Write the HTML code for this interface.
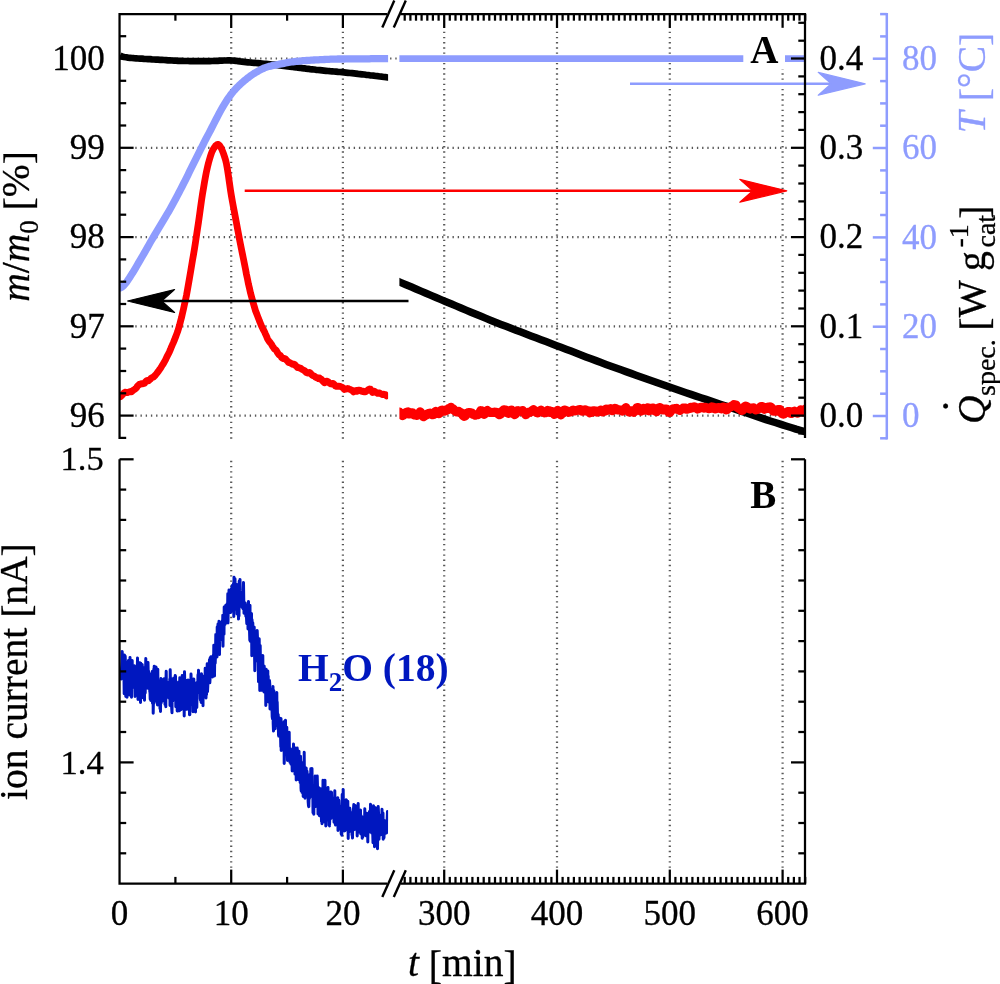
<!DOCTYPE html>
<html lang="en">
<head>
<meta charset="utf-8">
<title>TG / heat flow / ion current chart</title>
<style>
html,body{margin:0;padding:0;background:#fff;}
body{width:1000px;height:984px;overflow:hidden;font-family:"Liberation Serif","Times New Roman",Times,serif;}
svg text{font-kerning:normal;}
</style>
</head>
<body>
<svg width="1000" height="984" viewBox="0 0 1000 984" font-family='"Liberation Serif","Times New Roman",Times,serif' style="display:block">
<rect x="0" y="0" width="1000" height="984" fill="#fff"/>
<g stroke="#585858" stroke-width="2.2" fill="none" stroke-dasharray="1.35 3.85">
<line x1="231.2" y1="31.7" x2="231.2" y2="438.9"/>
<line x1="231.2" y1="460.8" x2="231.2" y2="868.6"/>
<line x1="342.9" y1="31.7" x2="342.9" y2="438.9"/>
<line x1="342.9" y1="460.8" x2="342.9" y2="868.6"/>
<line x1="444.2" y1="31.7" x2="444.2" y2="438.9"/>
<line x1="444.2" y1="460.8" x2="444.2" y2="868.6"/>
<line x1="557.0" y1="31.7" x2="557.0" y2="438.9"/>
<line x1="557.0" y1="460.8" x2="557.0" y2="868.6"/>
<line x1="669.8" y1="31.7" x2="669.8" y2="438.9"/>
<line x1="669.8" y1="460.8" x2="669.8" y2="868.6"/>
<line x1="782.6" y1="31.7" x2="782.6" y2="438.9"/>
<line x1="782.6" y1="460.8" x2="782.6" y2="868.6"/>
<line x1="135.3" y1="58.5" x2="790.6" y2="58.5"/>
<line x1="135.3" y1="147.8" x2="790.6" y2="147.8"/>
<line x1="135.3" y1="237.1" x2="790.6" y2="237.1"/>
<line x1="135.3" y1="326.3" x2="790.6" y2="326.3"/>
<line x1="135.3" y1="415.6" x2="790.6" y2="415.6"/>
</g>
<defs><clipPath id="cp"><rect x="119.6" y="0" width="268.5" height="984"/><rect x="399.4" y="0" width="406.4" height="984"/></clipPath></defs>
<g clip-path="url(#cp)">
<polyline points="120.0,55.5 122.0,56.5 124.0,57.0 126.0,57.3 128.0,57.6 130.0,57.8 132.0,58.0 134.0,58.2 136.0,58.3 138.0,58.5 140.0,58.6 142.0,58.7 144.0,58.9 146.0,59.0 148.0,59.1 150.0,59.2 152.0,59.4 154.0,59.5 156.0,59.6 158.0,59.7 160.0,59.8 162.0,59.9 164.0,60.0 166.0,60.1 168.0,60.3 170.0,60.4 172.0,60.5 174.0,60.6 176.0,60.7 178.0,60.8 180.0,60.9 182.0,60.9 184.0,61.0 186.0,61.0 188.0,61.0 190.0,61.1 192.0,61.1 194.0,61.1 196.0,61.2 198.0,61.2 200.0,61.2 202.0,61.2 204.0,61.2 206.0,61.2 208.0,61.2 210.0,61.1 212.0,61.0 214.0,61.0 216.0,60.9 218.0,60.8 220.0,60.7 222.0,60.6 224.0,60.5 226.0,60.5 228.0,60.4 230.0,60.4 232.0,60.5 234.0,60.6 236.0,60.8 238.0,61.1 240.0,61.4 242.0,61.6 244.0,61.9 246.0,62.1 248.0,62.3 250.0,62.5 252.0,62.7 254.0,62.8 256.0,63.0 258.0,63.2 260.0,63.4 262.0,63.6 264.0,63.8 266.0,63.9 268.0,64.1 270.0,64.3 272.0,64.5 274.0,64.7 276.0,64.9 278.0,65.1 280.0,65.4 282.0,65.6 284.0,65.9 286.0,66.1 288.0,66.4 290.0,66.6 292.0,66.8 294.0,67.1 296.0,67.3 298.0,67.6 300.0,67.8 302.0,68.1 304.0,68.3 306.0,68.6 308.0,68.8 310.0,69.1 312.0,69.3 314.0,69.5 316.0,69.8 318.0,70.0 320.0,70.2 322.0,70.4 324.0,70.6 326.0,70.8 328.0,71.0 330.0,71.2 332.0,71.3 334.0,71.5 336.0,71.7 338.0,71.9 340.0,72.0 342.0,72.2 344.0,72.4 346.0,72.6 348.0,72.8 350.0,73.0 352.0,73.2 354.0,73.4 356.0,73.6 358.0,73.9 360.0,74.1 362.0,74.3 364.0,74.5 366.0,74.8 368.0,75.0 370.0,75.3 372.0,75.5 374.0,75.7 376.0,76.0 378.0,76.2 380.0,76.5 382.0,76.7 384.0,77.0 386.0,77.2 388.0,77.5 390.0,77.8 391.0,77.9" fill="none" stroke="#000" stroke-width="6.7" stroke-linejoin="round" />
<polyline points="396.0,280.5 401.0,282.6 406.0,284.7 411.0,286.8 416.0,289.0 421.0,291.1 426.0,293.2 431.0,295.4 436.0,297.5 441.0,299.6 446.0,301.7 451.0,303.8 456.0,305.9 461.0,308.0 466.0,310.1 471.0,312.2 476.0,314.3 481.0,316.3 486.0,318.4 491.0,320.4 496.0,322.4 501.0,324.4 506.0,326.3 511.0,328.3 516.0,330.2 521.0,332.1 526.0,334.0 531.0,335.9 536.0,337.8 541.0,339.7 546.0,341.6 551.0,343.5 556.0,345.4 561.0,347.3 566.0,349.2 571.0,351.1 576.0,353.0 581.0,354.9 586.0,356.9 591.0,358.8 596.0,360.6 601.0,362.5 606.0,364.4 611.0,366.2 616.0,368.0 621.0,369.8 626.0,371.6 631.0,373.4 636.0,375.2 641.0,377.0 646.0,378.8 651.0,380.5 656.0,382.3 661.0,384.0 666.0,385.8 671.0,387.5 676.0,389.2 681.0,391.0 686.0,392.7 691.0,394.4 696.0,396.1 701.0,397.7 706.0,399.4 711.0,401.1 716.0,402.8 721.0,404.5 726.0,406.1 731.0,407.8 736.0,409.5 741.0,411.2 746.0,412.8 751.0,414.5 756.0,416.2 761.0,417.9 766.0,419.6 771.0,421.2 776.0,422.8 781.0,424.4 786.0,426.0 791.0,427.5 796.0,429.1 801.0,430.5 805.0,431.7" fill="none" stroke="#000" stroke-width="7.5" stroke-linejoin="round" />
<polyline points="120.5,396.6 121.5,395.7 122.5,394.6 123.5,393.5 124.5,392.4 125.5,392.1 126.5,392.5 127.5,392.6 128.5,392.2 129.5,391.7 130.5,391.9 131.5,391.9 132.5,390.9 133.5,390.0 134.5,389.5 135.5,388.6 136.5,387.7 137.5,386.0 138.5,385.3 139.5,384.1 140.5,384.1 141.5,383.6 142.5,383.9 143.5,383.5 144.5,383.4 145.5,381.8 146.5,380.9 147.5,380.4 148.5,380.8 149.5,379.8 150.5,379.0 151.5,377.8 152.5,377.4 153.5,377.0 154.5,376.0 155.5,375.0 156.5,373.7 157.5,372.4 158.5,371.1 159.5,369.6 160.5,368.3 161.5,366.6 162.5,364.9 163.5,363.5 164.5,361.6 165.5,359.8 166.5,357.6 167.5,355.7 168.5,353.7 169.5,351.7 170.5,349.4 171.5,346.8 172.5,344.5 173.5,342.3 174.5,339.9 175.5,337.2 176.5,334.6 177.5,331.9 178.5,328.7 179.5,325.3 180.5,321.4 181.5,317.7 182.5,313.3 183.5,309.0 184.5,304.4 185.5,300.0 186.5,295.2 187.5,289.7 188.5,283.9 189.5,278.1 190.5,272.2 191.5,266.3 192.5,260.3 193.5,254.7 194.5,248.6 195.5,242.2 196.5,235.5 197.5,228.8 198.5,222.3 199.5,215.1 200.5,207.8 201.5,200.6 202.5,194.0 203.5,188.1 204.5,182.1 205.5,176.6 206.5,171.4 207.5,167.0 208.5,162.9 209.5,159.4 210.5,156.1 211.5,153.0 212.5,150.7 213.5,148.7 214.5,147.4 215.5,145.9 216.5,145.0 217.5,144.3 218.5,144.6 219.5,145.4 220.5,146.9 221.5,148.7 222.5,151.0 223.5,153.6 224.5,156.6 225.5,159.8 226.5,164.1 227.5,169.7 228.5,176.2 229.5,183.2 230.5,190.2 231.5,196.4 232.5,202.0 233.5,207.4 234.5,212.7 235.5,218.0 236.5,223.1 237.5,228.7 238.5,233.9 239.5,239.3 240.5,244.3 241.5,249.4 242.5,254.2 243.5,259.1 244.5,264.2 245.5,269.2 246.5,274.5 247.5,279.1 248.5,284.3 249.5,288.4 250.5,292.9 251.5,296.7 252.5,300.2 253.5,303.8 254.5,307.3 255.5,310.7 256.5,313.3 257.5,315.9 258.5,318.4 259.5,321.1 260.5,323.5 261.5,325.9 262.5,327.9 263.5,330.0 264.5,331.7 265.5,334.1 266.5,336.2 267.5,338.8 268.5,340.3 269.5,341.8 270.5,343.0 271.5,344.3 272.5,346.2 273.5,347.6 274.5,349.1 275.5,349.7 276.5,350.7 277.5,352.7 278.5,354.2 279.5,355.1 280.5,355.5 281.5,357.4 282.5,358.1 283.5,358.6 284.5,358.4 285.5,359.0 286.5,360.1 287.5,361.1 288.5,362.5 289.5,362.4 290.5,363.2 291.5,363.5 292.5,364.3 293.5,364.1 294.5,364.3 295.5,365.5 296.5,366.3 297.5,367.5 298.5,367.4 299.5,368.0 300.5,368.1 301.5,369.0 302.5,369.6 303.5,370.2 304.5,370.5 305.5,371.7 306.5,372.6 307.5,373.2 308.5,372.9 309.5,372.4 310.5,373.2 311.5,374.4 312.5,375.5 313.5,375.8 314.5,376.2 315.5,377.1 316.5,377.8 317.5,377.7 318.5,378.6 319.5,378.0 320.5,379.2 321.5,379.2 322.5,380.8 323.5,381.8 324.5,382.8 325.5,382.4 326.5,381.2 327.5,381.4 328.5,382.0 329.5,383.3 330.5,383.8 331.5,384.0 332.5,383.4 333.5,383.6 334.5,384.8 335.5,386.1 336.5,386.4 337.5,386.3 338.5,386.1 339.5,386.3 340.5,386.6 341.5,386.9 342.5,387.5 343.5,388.3 344.5,389.5 345.5,389.0 346.5,389.0 347.5,388.5 348.5,388.7 349.5,389.2 350.5,389.5 351.5,390.2 352.5,390.3 353.5,391.8 354.5,391.0 355.5,391.4 356.5,390.5 357.5,391.2 358.5,390.2 359.5,390.1 360.5,390.5 361.5,391.3 362.5,391.6 363.5,391.2 364.5,391.9 365.5,391.9 366.5,391.1 367.5,390.3 368.5,389.5 369.5,389.0 370.5,389.2 371.5,390.9 372.5,392.5 373.5,392.3 374.5,391.3 375.5,392.0 376.5,392.7 377.5,393.3 378.5,392.9 379.5,393.0 380.5,393.6 381.5,394.2 382.5,394.6 383.5,394.1 384.5,394.6 385.5,394.7 386.5,395.9" fill="none" stroke="#FE0000" stroke-width="6.8" stroke-linejoin="round" stroke-linecap="round"/>
<polyline points="396.0,412.6 397.1,412.7 398.2,411.9 399.3,412.0 400.4,413.6 401.5,414.8 402.6,415.5 403.7,414.9 404.8,414.1 405.9,412.6 407.0,412.2 408.1,411.9 409.2,414.0 410.3,413.1 411.4,412.9 412.5,412.8 413.6,414.5 414.7,415.0 415.8,415.1 416.9,415.4 418.0,414.7 419.1,414.4 420.2,411.9 421.3,413.5 422.4,414.5 423.5,416.6 424.6,415.9 425.7,415.2 426.8,414.6 427.9,413.8 429.0,413.4 430.1,413.1 431.2,414.3 432.3,414.7 433.4,414.5 434.5,412.7 435.6,411.6 436.7,412.6 437.8,413.3 438.9,413.6 440.0,412.0 441.1,410.5 442.2,410.2 443.3,410.9 444.4,411.2 445.5,410.8 446.6,409.6 447.7,409.8 448.8,408.5 449.9,408.3 451.0,407.4 452.1,409.3 453.2,408.9 454.3,410.2 455.4,411.1 456.5,412.0 457.6,411.7 458.7,411.4 459.8,412.4 460.9,412.7 462.0,413.5 463.1,415.5 464.2,416.3 465.3,415.8 466.4,413.4 467.5,413.7 468.6,412.8 469.7,412.5 470.8,413.0 471.9,413.1 473.0,414.5 474.1,414.5 475.2,415.1 476.3,414.5 477.4,414.7 478.5,414.2 479.6,413.3 480.7,410.7 481.8,410.9 482.9,412.5 484.0,414.3 485.1,413.5 486.2,411.7 487.3,410.6 488.4,411.5 489.5,412.0 490.6,412.5 491.7,412.5 492.8,412.5 493.9,412.3 495.0,412.2 496.1,412.4 497.2,412.8 498.3,414.0 499.4,414.6 500.5,414.2 501.6,411.5 502.7,411.3 503.8,409.8 504.9,410.0 506.0,410.3 507.1,412.4 508.2,413.3 509.3,411.4 510.4,410.5 511.5,410.1 512.6,411.9 513.7,413.9 514.8,414.6 515.9,413.5 517.0,410.9 518.1,410.7 519.2,411.1 520.3,411.1 521.4,411.3 522.5,410.5 523.6,412.2 524.7,413.0 525.8,414.7 526.9,413.4 528.0,413.0 529.1,412.1 530.2,412.1 531.3,411.5 532.4,410.5 533.5,409.7 534.6,410.6 535.7,411.4 536.8,412.7 537.9,412.8 539.0,411.6 540.1,410.9 541.2,410.2 542.3,411.8 543.4,412.1 544.5,412.8 545.6,412.6 546.7,412.0 547.8,410.5 548.9,410.9 550.0,412.2 551.1,411.4 552.2,411.8 553.3,411.9 554.4,414.4 555.5,413.0 556.6,412.3 557.7,410.4 558.8,412.7 559.9,412.7 561.0,414.8 562.1,412.3 563.2,412.6 564.3,410.1 565.4,410.3 566.5,410.9 567.6,411.2 568.7,412.3 569.8,411.8 570.9,411.9 572.0,410.7 573.1,410.1 574.2,410.8 575.3,410.8 576.4,410.5 577.5,410.3 578.6,409.9 579.7,409.5 580.8,409.7 581.9,411.1 583.0,410.9 584.1,410.9 585.2,409.8 586.3,410.2 587.4,410.8 588.5,410.9 589.6,412.8 590.7,411.5 591.8,412.2 592.9,410.8 594.0,410.8 595.1,411.0 596.2,411.0 597.3,412.0 598.4,411.5 599.5,410.8 600.6,410.2 601.7,410.3 602.8,411.9 603.9,411.2 605.0,411.1 606.1,409.1 607.2,410.2 608.3,409.4 609.4,409.3 610.5,408.8 611.6,410.4 612.7,410.6 613.8,409.8 614.9,408.4 616.0,408.7 617.1,409.8 618.2,409.7 619.3,410.0 620.4,410.2 621.5,410.2 622.6,411.1 623.7,409.8 624.8,409.5 625.9,407.7 627.0,409.9 628.1,410.5 629.2,412.1 630.3,410.6 631.4,411.0 632.5,410.8 633.6,412.3 634.7,411.4 635.8,410.1 636.9,407.8 638.0,407.6 639.1,409.3 640.2,410.7 641.3,411.0 642.4,409.3 643.5,408.4 644.6,410.2 645.7,409.1 646.8,409.7 647.9,407.8 649.0,410.8 650.1,409.5 651.2,410.1 652.3,408.1 653.4,408.2 654.5,409.4 655.6,411.2 656.7,411.6 657.8,409.9 658.9,407.8 660.0,407.7 661.1,408.4 662.2,409.7 663.3,409.9 664.4,409.1 665.5,409.1 666.6,409.1 667.7,410.9 668.8,412.4 669.9,412.3 671.0,410.7 672.1,409.2 673.2,408.8 674.3,408.8 675.4,408.7 676.5,408.4 677.6,409.4 678.7,409.3 679.8,410.3 680.9,409.6 682.0,409.1 683.1,408.2 684.2,408.1 685.3,408.2 686.4,409.1 687.5,409.2 688.6,408.5 689.7,408.4 690.8,407.3 691.9,407.8 693.0,407.5 694.1,406.9 695.2,407.3 696.3,407.6 697.4,409.0 698.5,408.6 699.6,408.1 700.7,407.4 701.8,407.5 702.9,407.3 704.0,408.1 705.1,407.3 706.2,407.8 707.3,407.8 708.4,408.6 709.5,408.0 710.6,408.3 711.7,407.0 712.8,407.7 713.9,407.4 715.0,408.8 716.1,408.7 717.2,408.0 718.3,407.5 719.4,407.7 720.5,408.5 721.6,408.8 722.7,407.1 723.8,407.2 724.9,407.9 726.0,409.8 727.1,409.5 728.2,407.4 729.3,407.3 730.4,407.0 731.5,406.3 732.6,405.8 733.7,404.8 734.8,405.8 735.9,405.0 737.0,407.1 738.1,407.8 739.2,408.5 740.3,408.9 741.4,410.4 742.5,410.2 743.6,408.7 744.7,406.5 745.8,406.1 746.9,406.6 748.0,407.9 749.1,408.5 750.2,409.0 751.3,408.1 752.4,408.0 753.5,407.9 754.6,409.0 755.7,409.9 756.8,409.6 757.9,409.0 759.0,408.5 760.1,407.5 761.2,406.5 762.3,406.8 763.4,407.7 764.5,409.3 765.6,407.7 766.7,407.7 767.8,407.2 768.9,408.1 770.0,406.9 771.1,407.3 772.2,408.9 773.3,411.1 774.4,411.1 775.5,410.6 776.6,411.1 777.7,409.6 778.8,409.6 779.9,409.5 781.0,412.2 782.1,413.6 783.2,414.1 784.3,413.8 785.4,412.7 786.5,412.5 787.6,411.8 788.7,411.5 789.8,411.6 790.9,413.5 792.0,413.4 793.1,412.6 794.2,411.2 795.3,412.3 796.4,412.3 797.5,413.2 798.6,411.4 799.7,411.2 800.8,409.8 801.9,411.0 803.0,411.9 804.1,410.8 805.2,409.3 806.3,408.6 807.4,409.6" fill="none" stroke="#FE0000" stroke-width="9.2" stroke-linejoin="round" />
<polyline points="119.0,288.3 120.5,287.8 122.0,287.0 123.5,285.7 125.0,284.1 126.5,282.2 128.0,280.0 129.5,277.8 131.0,275.4 132.5,273.1 134.0,270.6 135.5,268.1 137.0,265.5 138.5,262.9 140.0,260.4 141.5,257.8 143.0,255.2 144.5,252.6 146.0,250.0 147.5,247.4 149.0,244.8 150.5,242.1 152.0,239.5 153.5,237.0 155.0,234.4 156.5,231.9 158.0,229.4 159.5,226.9 161.0,224.4 162.5,221.9 164.0,219.4 165.5,216.9 167.0,214.3 168.5,211.8 170.0,209.2 171.5,206.5 173.0,203.8 174.5,201.1 176.0,198.3 177.5,195.4 179.0,192.5 180.5,189.6 182.0,186.7 183.5,183.8 185.0,180.8 186.5,177.8 188.0,174.8 189.5,171.7 191.0,168.7 192.5,165.6 194.0,162.6 195.5,159.6 197.0,156.6 198.5,153.6 200.0,150.6 201.5,147.6 203.0,144.7 204.5,141.7 206.0,138.8 207.5,135.9 209.0,133.1 210.5,130.2 212.0,127.3 213.5,124.4 215.0,121.4 216.5,118.5 218.0,115.6 219.5,112.7 221.0,110.0 222.5,107.4 224.0,104.9 225.5,102.4 227.0,100.1 228.5,97.9 230.0,95.8 231.5,93.8 233.0,91.9 234.5,90.2 236.0,88.6 237.5,87.0 239.0,85.5 240.5,84.1 242.0,82.7 243.5,81.4 245.0,80.2 246.5,78.9 248.0,77.8 249.5,76.6 251.0,75.5 252.5,74.5 254.0,73.5 255.5,72.6 257.0,71.8 258.5,70.9 260.0,70.1 261.5,69.3 263.0,68.6 264.5,67.9 266.0,67.4 267.5,66.9 269.0,66.4 270.5,66.1 272.0,65.7 273.5,65.4 275.0,65.1 276.5,64.8 278.0,64.5 279.5,64.2 281.0,63.9 282.5,63.6 284.0,63.3 285.5,63.0 287.0,62.7 288.5,62.4 290.0,62.2 291.5,62.0 293.0,61.8 294.5,61.6 296.0,61.4 297.5,61.3 299.0,61.1 300.5,61.0 302.0,60.8 303.5,60.7 305.0,60.6 306.5,60.5 308.0,60.4 309.5,60.3 311.0,60.2 312.5,60.1 314.0,60.0 315.5,59.9 317.0,59.8 318.5,59.8 320.0,59.7 321.5,59.6 323.0,59.6 324.5,59.5 326.0,59.4 327.5,59.4 329.0,59.3 330.5,59.2 332.0,59.2 333.5,59.1 335.0,59.1 336.5,59.1 338.0,59.0 339.5,59.0 341.0,59.0 342.5,59.0 344.0,59.0 345.5,58.9 347.0,58.9 348.5,58.9 350.0,58.9 351.5,58.9 353.0,58.9 354.5,58.9 356.0,58.8 357.5,58.8 359.0,58.8 360.5,58.8 362.0,58.8 363.5,58.8 365.0,58.8 366.5,58.8 368.0,58.8 369.5,58.8 371.0,58.7 372.5,58.7 374.0,58.7 375.5,58.7 377.0,58.7 378.5,58.7 380.0,58.7 381.5,58.7 383.0,58.7 384.5,58.7 386.0,58.7 387.5,58.7 389.0,58.7 390.5,58.7 391.0,58.7" fill="none" stroke="#8E9CFE" stroke-width="7.3" stroke-linejoin="round" />
<line x1="397" y1="58.7" x2="805.0" y2="58.7" stroke="#8E9CFE" stroke-width="6.8"/>
<polyline points="121.0,677.6 121.2,679.0 121.5,669.3 121.8,665.3 122.0,661.1 122.2,651.6 122.5,659.1 122.8,667.5 123.0,668.0 123.2,664.0 123.5,668.2 123.8,660.7 124.0,678.4 124.2,693.8 124.5,654.9 124.8,686.6 125.0,673.3 125.2,656.3 125.5,665.3 125.8,696.4 126.0,677.7 126.2,693.8 126.5,662.3 126.8,687.7 127.0,697.2 127.2,688.8 127.5,668.8 127.8,678.6 128.0,672.9 128.2,680.1 128.5,660.4 128.8,673.9 129.0,679.6 129.2,680.2 129.5,677.8 129.8,695.1 130.0,657.4 130.2,661.1 130.5,677.9 130.8,661.0 131.0,664.0 131.2,665.2 131.5,697.3 131.8,676.4 132.0,688.3 132.2,660.6 132.5,684.7 132.8,685.1 133.0,686.1 133.2,682.7 133.5,676.2 133.8,682.0 134.0,676.1 134.2,673.9 134.5,665.7 134.8,676.4 135.0,696.5 135.2,677.2 135.5,676.1 135.8,676.2 136.0,682.9 136.2,678.2 136.5,679.9 136.8,687.7 137.0,680.2 137.2,680.3 137.5,658.0 137.8,681.5 138.0,699.6 138.2,662.4 138.5,685.3 138.8,669.5 139.0,687.6 139.2,698.4 139.5,675.9 139.8,677.6 140.0,662.7 140.2,681.6 140.5,702.6 140.8,663.3 141.0,665.1 141.2,686.4 141.5,682.4 141.8,682.2 142.0,676.6 142.2,664.6 142.5,678.1 142.8,697.7 143.0,696.4 143.2,673.0 143.5,682.2 143.8,677.8 144.0,696.2 144.2,668.5 144.5,700.2 144.8,667.6 145.0,674.9 145.2,693.0 145.5,676.1 145.8,658.5 146.0,676.8 146.2,671.2 146.5,666.2 146.8,665.1 147.0,662.9 147.2,674.9 147.5,676.2 147.8,688.2 148.0,662.4 148.2,672.7 148.5,670.9 148.8,685.5 149.0,679.8 149.2,680.2 149.5,683.0 149.8,691.9 150.0,691.5 150.2,699.2 150.5,679.4 150.8,700.4 151.0,673.8 151.2,679.0 151.5,678.3 151.8,694.8 152.0,694.5 152.2,671.5 152.5,703.2 152.8,686.4 153.0,674.2 153.2,713.2 153.5,694.0 153.8,668.9 154.0,703.2 154.2,666.2 154.5,679.6 154.8,687.8 155.0,696.9 155.2,667.6 155.5,700.9 155.8,690.2 156.0,667.0 156.2,692.3 156.5,673.5 156.8,686.4 157.0,692.3 157.2,691.2 157.5,704.9 157.8,669.2 158.0,700.9 158.2,683.7 158.5,692.9 158.8,692.3 159.0,696.7 159.2,682.7 159.5,681.0 159.8,702.7 160.0,708.7 160.2,690.4 160.5,711.6 160.8,683.9 161.0,678.5 161.2,703.0 161.5,689.9 161.8,694.0 162.0,685.7 162.2,694.1 162.5,682.9 162.8,679.8 163.0,700.6 163.2,694.1 163.5,696.6 163.8,700.8 164.0,687.3 164.2,678.8 164.5,693.3 164.8,683.6 165.0,704.4 165.2,686.1 165.5,683.7 165.8,706.8 166.0,679.3 166.2,671.3 166.5,693.2 166.8,697.4 167.0,697.3 167.2,696.8 167.5,682.2 167.8,682.8 168.0,696.1 168.2,687.9 168.5,697.4 168.8,691.3 169.0,698.3 169.2,683.0 169.5,692.8 169.8,679.0 170.0,705.5 170.2,669.8 170.5,688.2 170.8,686.3 171.0,705.4 171.2,678.4 171.5,704.5 171.8,709.6 172.0,712.7 172.2,686.8 172.5,690.7 172.8,700.8 173.0,698.1 173.2,687.8 173.5,687.5 173.8,678.0 174.0,685.4 174.2,695.8 174.5,679.6 174.8,682.9 175.0,690.5 175.2,675.5 175.5,676.5 175.8,706.8 176.0,688.8 176.2,684.3 176.5,697.1 176.8,690.4 177.0,693.9 177.2,711.0 177.5,706.3 177.8,711.0 178.0,683.8 178.2,688.5 178.5,681.9 178.8,687.8 179.0,688.1 179.2,683.3 179.5,710.7 179.8,677.7 180.0,688.3 180.2,701.7 180.5,700.2 180.8,688.2 181.0,682.2 181.2,709.4 181.5,707.7 181.8,690.5 182.0,697.0 182.2,675.4 182.5,688.9 182.8,697.4 183.0,707.3 183.2,701.3 183.5,697.7 183.8,692.0 184.0,683.8 184.2,715.9 184.5,671.8 184.8,683.8 185.0,699.2 185.2,707.8 185.5,699.1 185.8,693.4 186.0,680.2 186.2,685.5 186.5,706.8 186.8,709.2 187.0,690.0 187.2,705.3 187.5,684.1 187.8,693.2 188.0,697.3 188.2,679.9 188.5,699.2 188.8,693.1 189.0,695.7 189.2,691.1 189.5,714.8 189.8,714.8 190.0,685.6 190.2,682.0 190.5,704.6 190.8,692.3 191.0,674.1 191.2,681.4 191.5,702.2 191.8,690.3 192.0,686.2 192.2,691.0 192.5,694.0 192.8,695.6 193.0,711.8 193.2,705.4 193.5,682.9 193.8,678.9 194.0,700.3 194.2,706.8 194.5,691.0 194.8,700.0 195.0,699.1 195.2,686.9 195.5,712.0 195.8,685.7 196.0,695.4 196.2,682.9 196.5,684.5 196.8,707.4 197.0,693.9 197.2,693.3 197.5,690.1 197.8,684.9 198.0,674.7 198.2,684.5 198.5,670.2 198.8,687.4 199.0,685.3 199.2,692.5 199.5,683.5 199.8,689.9 200.0,684.6 200.2,698.6 200.5,700.2 200.8,681.6 201.0,683.7 201.2,702.6 201.5,673.7 201.8,696.5 202.0,685.4 202.2,691.8 202.5,683.6 202.8,683.9 203.0,705.8 203.2,679.1 203.5,695.9 203.8,677.3 204.0,676.0 204.2,685.5 204.5,680.9 204.8,678.5 205.0,693.6 205.2,668.3 205.5,686.6 205.8,695.6 206.0,697.9 206.2,684.5 206.5,694.7 206.8,678.2 207.0,687.5 207.2,663.8 207.5,691.6 207.8,686.0 208.0,669.1 208.2,682.4 208.5,669.2 208.8,674.4 209.0,680.8 209.2,665.0 209.5,659.7 209.8,682.8 210.0,679.6 210.2,657.8 210.5,659.4 210.8,660.8 211.0,656.8 211.2,668.7 211.5,675.0 211.8,669.1 212.0,667.0 212.2,659.5 212.5,676.9 212.8,657.4 213.0,669.5 213.2,655.6 213.5,671.1 213.8,645.3 214.0,663.4 214.2,655.3 214.5,676.1 214.8,649.6 215.0,655.4 215.2,663.3 215.5,654.5 215.8,634.5 216.0,641.3 216.2,655.4 216.5,636.5 216.8,642.8 217.0,657.1 217.2,627.0 217.5,628.2 217.8,645.8 218.0,624.1 218.2,649.4 218.5,646.7 218.8,632.6 219.0,621.3 219.2,652.1 219.5,654.4 219.8,632.3 220.0,622.4 220.2,640.1 220.5,637.8 220.8,639.7 221.0,637.7 221.2,628.9 221.5,621.9 221.8,627.1 222.0,624.1 222.2,621.1 222.5,630.1 222.8,615.3 223.0,646.3 223.2,625.5 223.5,617.6 223.8,619.5 224.0,634.3 224.2,607.1 224.5,625.3 224.8,623.9 225.0,612.8 225.2,624.1 225.5,611.2 225.8,605.2 226.0,610.4 226.2,614.2 226.5,609.5 226.8,618.6 227.0,603.9 227.2,615.0 227.5,617.7 227.8,593.8 228.0,623.1 228.2,608.5 228.5,596.1 228.8,599.6 229.0,590.0 229.2,594.5 229.5,595.8 229.8,597.4 230.0,591.9 230.2,609.0 230.5,612.6 230.8,596.2 231.0,593.3 231.2,591.9 231.5,588.5 231.8,607.2 232.0,608.1 232.2,585.6 232.5,606.4 232.8,602.9 233.0,593.4 233.2,611.6 233.5,583.6 233.8,616.5 234.0,577.2 234.2,585.0 234.5,609.4 234.8,597.5 235.0,578.7 235.2,591.4 235.5,586.1 235.8,596.3 236.0,609.3 236.2,599.0 236.5,584.2 236.8,601.8 237.0,614.0 237.2,597.1 237.5,613.1 237.8,586.0 238.0,612.8 238.2,602.0 238.5,619.1 238.8,594.6 239.0,616.1 239.2,581.3 239.5,602.6 239.8,582.2 240.0,579.4 240.2,590.4 240.5,597.5 240.8,606.0 241.0,604.6 241.2,592.4 241.5,591.8 241.8,594.7 242.0,607.3 242.2,598.6 242.5,595.8 242.8,608.1 243.0,608.6 243.2,596.1 243.5,582.6 243.8,602.6 244.0,613.3 244.2,611.1 244.5,604.2 244.8,610.2 245.0,603.4 245.2,602.8 245.5,605.0 245.8,616.2 246.0,611.3 246.2,605.3 246.5,618.0 246.8,623.7 247.0,622.8 247.2,623.7 247.5,623.2 247.8,615.1 248.0,629.0 248.2,617.4 248.5,601.4 248.8,625.0 249.0,606.5 249.2,625.5 249.5,629.9 249.8,640.2 250.0,605.2 250.2,641.2 250.5,613.8 250.8,636.4 251.0,639.4 251.2,621.4 251.5,613.6 251.8,655.8 252.0,619.7 252.2,622.8 252.5,635.8 252.8,622.8 253.0,633.5 253.2,646.6 253.5,652.3 253.8,651.0 254.0,632.3 254.2,627.1 254.5,649.9 254.8,670.8 255.0,635.3 255.2,650.5 255.5,650.2 255.8,641.8 256.0,634.0 256.2,646.2 256.5,648.8 256.8,659.3 257.0,636.3 257.2,630.6 257.5,638.2 257.8,661.7 258.0,643.9 258.2,665.1 258.5,681.8 258.8,665.4 259.0,644.8 259.2,638.8 259.5,664.9 259.8,690.6 260.0,674.2 260.2,645.4 260.5,669.6 260.8,686.9 261.0,677.5 261.2,684.5 261.5,690.2 261.8,682.2 262.0,670.5 262.2,663.5 262.5,690.2 262.8,655.6 263.0,678.3 263.2,690.1 263.5,674.0 263.8,679.0 264.0,692.1 264.2,666.1 264.5,687.1 264.8,689.1 265.0,686.3 265.2,689.0 265.5,675.2 265.8,705.6 266.0,671.7 266.2,669.3 266.5,701.7 266.8,684.5 267.0,688.3 267.2,697.8 267.5,673.1 267.8,671.0 268.0,694.2 268.2,676.1 268.5,699.8 268.8,702.1 269.0,698.5 269.2,700.5 269.5,680.5 269.8,684.6 270.0,709.0 270.2,691.1 270.5,704.9 270.8,693.5 271.0,705.7 271.2,688.9 271.5,697.5 271.8,706.4 272.0,709.1 272.2,716.8 272.5,718.8 272.8,702.9 273.0,686.5 273.2,723.6 273.5,731.1 273.8,690.5 274.0,725.1 274.2,696.4 274.5,718.0 274.8,712.7 275.0,713.0 275.2,728.8 275.5,717.2 275.8,714.0 276.0,725.4 276.2,717.0 276.5,712.4 276.8,692.6 277.0,720.5 277.2,702.1 277.5,714.6 277.8,717.6 278.0,722.9 278.2,714.6 278.5,734.8 278.8,736.1 279.0,717.5 279.2,727.2 279.5,735.2 279.8,730.7 280.0,730.6 280.2,733.5 280.5,733.7 280.8,746.6 281.0,718.4 281.2,750.4 281.5,743.3 281.8,744.7 282.0,734.4 282.2,742.2 282.5,739.6 282.8,741.1 283.0,726.9 283.2,746.3 283.5,750.4 283.8,731.6 284.0,721.8 284.2,763.5 284.5,752.7 284.8,749.5 285.0,734.2 285.2,738.4 285.5,720.3 285.8,750.8 286.0,748.4 286.2,746.5 286.5,735.7 286.8,727.2 287.0,751.2 287.2,736.2 287.5,760.4 287.8,749.9 288.0,751.4 288.2,755.2 288.5,749.4 288.8,758.2 289.0,741.9 289.2,732.2 289.5,759.1 289.8,749.6 290.0,762.5 290.2,752.3 290.5,748.7 290.8,757.5 291.0,764.2 291.2,754.9 291.5,757.2 291.8,753.4 292.0,762.5 292.2,770.9 292.5,757.0 292.8,754.4 293.0,758.4 293.2,759.8 293.5,744.1 293.8,759.0 294.0,754.6 294.2,755.1 294.5,752.8 294.8,769.0 295.0,774.1 295.2,757.8 295.5,748.0 295.8,773.3 296.0,750.7 296.2,780.1 296.5,750.8 296.8,752.6 297.0,772.1 297.2,748.0 297.5,765.8 297.8,763.2 298.0,765.6 298.2,779.5 298.5,761.8 298.8,774.6 299.0,751.2 299.2,778.0 299.5,767.6 299.8,767.0 300.0,780.2 300.2,782.6 300.5,756.2 300.8,766.3 301.0,787.9 301.2,790.8 301.5,775.5 301.8,780.7 302.0,792.5 302.2,785.9 302.5,779.4 302.8,762.6 303.0,775.9 303.2,796.5 303.5,790.0 303.8,773.6 304.0,777.3 304.2,752.2 304.5,786.5 304.8,773.4 305.0,798.2 305.2,770.0 305.5,781.3 305.8,785.5 306.0,781.3 306.2,768.1 306.5,778.6 306.8,782.4 307.0,771.3 307.2,774.4 307.5,794.3 307.8,779.5 308.0,795.8 308.2,802.2 308.5,805.8 308.8,806.6 309.0,797.1 309.2,775.0 309.5,798.5 309.8,795.3 310.0,797.0 310.2,795.1 310.5,793.9 310.8,768.8 311.0,790.0 311.2,777.2 311.5,784.2 311.8,783.8 312.0,768.4 312.2,794.0 312.5,791.4 312.8,788.8 313.0,812.7 313.2,808.7 313.5,790.6 313.8,814.3 314.0,786.0 314.2,795.7 314.5,785.6 314.8,785.8 315.0,805.1 315.2,775.9 315.5,798.6 315.8,806.4 316.0,787.0 316.2,799.2 316.5,797.6 316.8,791.2 317.0,799.2 317.2,775.9 317.5,786.5 317.8,788.1 318.0,814.1 318.2,789.5 318.5,795.4 318.8,812.9 319.0,787.7 319.2,814.8 319.5,815.6 319.8,802.2 320.0,804.8 320.2,793.7 320.5,789.2 320.8,788.8 321.0,799.8 321.2,804.9 321.5,821.4 321.8,805.8 322.0,823.7 322.2,810.7 322.5,799.1 322.8,804.9 323.0,780.3 323.2,796.8 323.5,818.9 323.8,792.0 324.0,793.2 324.2,786.5 324.5,822.1 324.8,806.7 325.0,780.2 325.2,815.5 325.5,795.3 325.8,826.0 326.0,799.3 326.2,794.0 326.5,805.3 326.8,810.0 327.0,819.9 327.2,803.7 327.5,795.6 327.8,816.7 328.0,787.5 328.2,801.5 328.5,794.5 328.8,813.4 329.0,825.1 329.2,814.8 329.5,825.9 329.8,817.8 330.0,799.1 330.2,809.3 330.5,803.9 330.8,791.9 331.0,818.4 331.2,815.8 331.5,792.3 331.8,804.3 332.0,799.8 332.2,807.5 332.5,811.6 332.8,814.2 333.0,798.0 333.2,806.7 333.5,801.6 333.8,806.5 334.0,822.3 334.2,820.2 334.5,818.1 334.8,790.8 335.0,811.0 335.2,823.6 335.5,825.0 335.8,806.8 336.0,807.6 336.2,802.8 336.5,820.3 336.8,822.9 337.0,802.4 337.2,807.9 337.5,800.9 337.8,797.7 338.0,830.5 338.2,815.0 338.5,826.6 338.8,800.2 339.0,804.6 339.2,820.0 339.5,817.5 339.8,808.7 340.0,819.2 340.2,816.6 340.5,829.0 340.8,812.2 341.0,806.4 341.2,833.9 341.5,814.9 341.8,835.2 342.0,817.0 342.2,794.5 342.5,813.9 342.8,798.6 343.0,803.4 343.2,789.6 343.5,818.2 343.8,814.3 344.0,815.6 344.2,831.0 344.5,810.2 344.8,802.8 345.0,830.8 345.2,812.6 345.5,811.9 345.8,814.7 346.0,819.7 346.2,799.7 346.5,829.6 346.8,825.5 347.0,806.1 347.2,804.1 347.5,826.5 347.8,801.3 348.0,815.3 348.2,838.4 348.5,817.7 348.8,829.8 349.0,820.4 349.2,831.8 349.5,809.1 349.8,808.2 350.0,817.8 350.2,817.1 350.5,822.5 350.8,821.6 351.0,812.4 351.2,813.9 351.5,816.6 351.8,813.6 352.0,835.1 352.2,833.0 352.5,838.1 352.8,818.7 353.0,825.0 353.2,810.7 353.5,808.5 353.8,804.6 354.0,829.8 354.2,809.8 354.5,808.4 354.8,805.5 355.0,813.7 355.2,829.2 355.5,805.8 355.8,817.6 356.0,825.5 356.2,822.6 356.5,825.6 356.8,824.8 357.0,823.9 357.2,835.9 357.5,823.8 357.8,825.8 358.0,805.3 358.2,803.4 358.5,832.3 358.8,817.7 359.0,811.6 359.2,821.7 359.5,830.4 359.8,816.5 360.0,825.1 360.2,810.6 360.5,810.0 360.8,834.0 361.0,830.6 361.2,815.7 361.5,833.0 361.8,823.9 362.0,817.3 362.2,838.3 362.5,834.6 362.8,836.8 363.0,835.0 363.2,834.5 363.5,833.1 363.8,816.9 364.0,823.0 364.2,818.8 364.5,828.7 364.8,808.8 365.0,819.9 365.2,814.0 365.5,834.6 365.8,835.6 366.0,823.6 366.2,815.6 366.5,822.1 366.8,830.5 367.0,813.2 367.2,813.4 367.5,822.3 367.8,842.0 368.0,819.2 368.2,830.6 368.5,815.2 368.8,826.5 369.0,820.3 369.2,828.3 369.5,811.4 369.8,828.5 370.0,832.0 370.2,827.1 370.5,804.2 370.8,832.3 371.0,831.2 371.2,819.5 371.5,830.2 371.8,833.0 372.0,825.1 372.2,822.6 372.5,811.0 372.8,835.7 373.0,842.7 373.2,823.8 373.5,805.8 373.8,827.9 374.0,807.0 374.2,807.5 374.5,846.8 374.8,821.5 375.0,825.9 375.2,828.7 375.5,807.7 375.8,842.1 376.0,838.8 376.2,813.3 376.5,828.2 376.8,818.5 377.0,828.8 377.2,830.1 377.5,848.8 377.8,830.4 378.0,837.6 378.2,806.6 378.5,812.5 378.8,830.2 379.0,839.2 379.2,818.1 379.5,834.3 379.8,835.3 380.0,815.0 380.2,824.2 380.5,826.2 380.8,834.6 381.0,830.3 381.2,818.6 381.5,824.6 381.8,828.6 382.0,809.2 382.2,832.8 382.5,823.6 382.8,834.6 383.0,813.0 383.2,839.2 383.5,830.0 383.8,835.8 384.0,837.8 384.2,830.6 384.5,820.5 384.8,833.7 385.0,827.2 385.2,821.2 385.5,833.0 385.8,827.1 386.0,829.7 386.2,832.8 386.5,833.0 386.8,829.6 387.0,821.9 387.2,819.1 387.5,811.6 387.6,820.6" fill="none" stroke="#0017BF" stroke-width="3.0" stroke-linejoin="round" />
</g>
<line x1="630.0" y1="83.8" x2="832.2" y2="83.8" stroke="#8E9CFE" stroke-width="2.4"/>
<path d="M865.2 83.8 L818.2 72.4 L831.2 83.8 L818.2 95.2 Z" fill="#8E9CFE" stroke="#8E9CFE" stroke-width="1.2" stroke-linejoin="round"/>
<line x1="244.7" y1="190.8" x2="753.8" y2="190.8" stroke="#FE0000" stroke-width="2.4"/>
<path d="M786.8 190.8 L739.8 179.4 L752.8 190.8 L739.8 202.2 Z" fill="#FE0000" stroke="#FE0000" stroke-width="1.2" stroke-linejoin="round"/>
<line x1="408.5" y1="301.0" x2="160.6" y2="301.0" stroke="#000" stroke-width="2.5"/>
<path d="M127.6 301.0 L174.6 289.6 L161.6 301.0 L174.6 312.4 Z" fill="#000" stroke="#000" stroke-width="1.2" stroke-linejoin="round"/>
<g stroke="#000" stroke-width="2.25" fill="none" stroke-linecap="butt">
<path d="M119.55 438.9 V14.0 H387.0"/>
<path d="M400.6 14.0 H805.0 V438.0"/>
<path d="M119.55 459.3 V883.6 H387.0"/>
<path d="M400.6 883.6 H805.0 V459.3"/>
<line x1="394.3" y1="0.6" x2="382.3" y2="27.4" stroke-width="2.4"/>
<line x1="405.8" y1="0.6" x2="393.8" y2="27.4" stroke-width="2.4"/>
<line x1="394.3" y1="870.2" x2="382.3" y2="897.0" stroke-width="2.4"/>
<line x1="405.8" y1="870.2" x2="393.8" y2="897.0" stroke-width="2.4"/>
<line x1="175.4" y1="14.0" x2="175.4" y2="20.7"/>
<line x1="175.4" y1="883.6" x2="175.4" y2="876.9"/>
<line x1="231.2" y1="14.0" x2="231.2" y2="28.0"/>
<line x1="231.2" y1="883.6" x2="231.2" y2="869.6"/>
<line x1="287.1" y1="14.0" x2="287.1" y2="20.7"/>
<line x1="287.1" y1="883.6" x2="287.1" y2="876.9"/>
<line x1="342.9" y1="14.0" x2="342.9" y2="28.0"/>
<line x1="342.9" y1="883.6" x2="342.9" y2="869.6"/>
<line x1="404.7" y1="14.0" x2="404.7" y2="20.7"/>
<line x1="404.7" y1="883.6" x2="404.7" y2="876.9"/>
<line x1="410.4" y1="14.0" x2="410.4" y2="20.7"/>
<line x1="410.4" y1="883.6" x2="410.4" y2="876.9"/>
<line x1="416.0" y1="14.0" x2="416.0" y2="20.7"/>
<line x1="416.0" y1="883.6" x2="416.0" y2="876.9"/>
<line x1="421.6" y1="14.0" x2="421.6" y2="20.7"/>
<line x1="421.6" y1="883.6" x2="421.6" y2="876.9"/>
<line x1="427.3" y1="14.0" x2="427.3" y2="20.7"/>
<line x1="427.3" y1="883.6" x2="427.3" y2="876.9"/>
<line x1="432.9" y1="14.0" x2="432.9" y2="20.7"/>
<line x1="432.9" y1="883.6" x2="432.9" y2="876.9"/>
<line x1="438.6" y1="14.0" x2="438.6" y2="20.7"/>
<line x1="438.6" y1="883.6" x2="438.6" y2="876.9"/>
<line x1="444.2" y1="14.0" x2="444.2" y2="28.0"/>
<line x1="444.2" y1="883.6" x2="444.2" y2="869.6"/>
<line x1="449.8" y1="14.0" x2="449.8" y2="20.7"/>
<line x1="449.8" y1="883.6" x2="449.8" y2="876.9"/>
<line x1="455.5" y1="14.0" x2="455.5" y2="20.7"/>
<line x1="455.5" y1="883.6" x2="455.5" y2="876.9"/>
<line x1="461.1" y1="14.0" x2="461.1" y2="20.7"/>
<line x1="461.1" y1="883.6" x2="461.1" y2="876.9"/>
<line x1="466.8" y1="14.0" x2="466.8" y2="20.7"/>
<line x1="466.8" y1="883.6" x2="466.8" y2="876.9"/>
<line x1="472.4" y1="14.0" x2="472.4" y2="20.7"/>
<line x1="472.4" y1="883.6" x2="472.4" y2="876.9"/>
<line x1="478.0" y1="14.0" x2="478.0" y2="20.7"/>
<line x1="478.0" y1="883.6" x2="478.0" y2="876.9"/>
<line x1="483.7" y1="14.0" x2="483.7" y2="20.7"/>
<line x1="483.7" y1="883.6" x2="483.7" y2="876.9"/>
<line x1="489.3" y1="14.0" x2="489.3" y2="20.7"/>
<line x1="489.3" y1="883.6" x2="489.3" y2="876.9"/>
<line x1="495.0" y1="14.0" x2="495.0" y2="20.7"/>
<line x1="495.0" y1="883.6" x2="495.0" y2="876.9"/>
<line x1="500.6" y1="14.0" x2="500.6" y2="20.7"/>
<line x1="500.6" y1="883.6" x2="500.6" y2="876.9"/>
<line x1="506.2" y1="14.0" x2="506.2" y2="20.7"/>
<line x1="506.2" y1="883.6" x2="506.2" y2="876.9"/>
<line x1="511.9" y1="14.0" x2="511.9" y2="20.7"/>
<line x1="511.9" y1="883.6" x2="511.9" y2="876.9"/>
<line x1="517.5" y1="14.0" x2="517.5" y2="20.7"/>
<line x1="517.5" y1="883.6" x2="517.5" y2="876.9"/>
<line x1="523.2" y1="14.0" x2="523.2" y2="20.7"/>
<line x1="523.2" y1="883.6" x2="523.2" y2="876.9"/>
<line x1="528.8" y1="14.0" x2="528.8" y2="20.7"/>
<line x1="528.8" y1="883.6" x2="528.8" y2="876.9"/>
<line x1="534.4" y1="14.0" x2="534.4" y2="20.7"/>
<line x1="534.4" y1="883.6" x2="534.4" y2="876.9"/>
<line x1="540.1" y1="14.0" x2="540.1" y2="20.7"/>
<line x1="540.1" y1="883.6" x2="540.1" y2="876.9"/>
<line x1="545.7" y1="14.0" x2="545.7" y2="20.7"/>
<line x1="545.7" y1="883.6" x2="545.7" y2="876.9"/>
<line x1="551.4" y1="14.0" x2="551.4" y2="20.7"/>
<line x1="551.4" y1="883.6" x2="551.4" y2="876.9"/>
<line x1="557.0" y1="14.0" x2="557.0" y2="28.0"/>
<line x1="557.0" y1="883.6" x2="557.0" y2="869.6"/>
<line x1="562.6" y1="14.0" x2="562.6" y2="20.7"/>
<line x1="562.6" y1="883.6" x2="562.6" y2="876.9"/>
<line x1="568.3" y1="14.0" x2="568.3" y2="20.7"/>
<line x1="568.3" y1="883.6" x2="568.3" y2="876.9"/>
<line x1="573.9" y1="14.0" x2="573.9" y2="20.7"/>
<line x1="573.9" y1="883.6" x2="573.9" y2="876.9"/>
<line x1="579.6" y1="14.0" x2="579.6" y2="20.7"/>
<line x1="579.6" y1="883.6" x2="579.6" y2="876.9"/>
<line x1="585.2" y1="14.0" x2="585.2" y2="20.7"/>
<line x1="585.2" y1="883.6" x2="585.2" y2="876.9"/>
<line x1="590.8" y1="14.0" x2="590.8" y2="20.7"/>
<line x1="590.8" y1="883.6" x2="590.8" y2="876.9"/>
<line x1="596.5" y1="14.0" x2="596.5" y2="20.7"/>
<line x1="596.5" y1="883.6" x2="596.5" y2="876.9"/>
<line x1="602.1" y1="14.0" x2="602.1" y2="20.7"/>
<line x1="602.1" y1="883.6" x2="602.1" y2="876.9"/>
<line x1="607.8" y1="14.0" x2="607.8" y2="20.7"/>
<line x1="607.8" y1="883.6" x2="607.8" y2="876.9"/>
<line x1="613.4" y1="14.0" x2="613.4" y2="20.7"/>
<line x1="613.4" y1="883.6" x2="613.4" y2="876.9"/>
<line x1="619.0" y1="14.0" x2="619.0" y2="20.7"/>
<line x1="619.0" y1="883.6" x2="619.0" y2="876.9"/>
<line x1="624.7" y1="14.0" x2="624.7" y2="20.7"/>
<line x1="624.7" y1="883.6" x2="624.7" y2="876.9"/>
<line x1="630.3" y1="14.0" x2="630.3" y2="20.7"/>
<line x1="630.3" y1="883.6" x2="630.3" y2="876.9"/>
<line x1="636.0" y1="14.0" x2="636.0" y2="20.7"/>
<line x1="636.0" y1="883.6" x2="636.0" y2="876.9"/>
<line x1="641.6" y1="14.0" x2="641.6" y2="20.7"/>
<line x1="641.6" y1="883.6" x2="641.6" y2="876.9"/>
<line x1="647.2" y1="14.0" x2="647.2" y2="20.7"/>
<line x1="647.2" y1="883.6" x2="647.2" y2="876.9"/>
<line x1="652.9" y1="14.0" x2="652.9" y2="20.7"/>
<line x1="652.9" y1="883.6" x2="652.9" y2="876.9"/>
<line x1="658.5" y1="14.0" x2="658.5" y2="20.7"/>
<line x1="658.5" y1="883.6" x2="658.5" y2="876.9"/>
<line x1="664.2" y1="14.0" x2="664.2" y2="20.7"/>
<line x1="664.2" y1="883.6" x2="664.2" y2="876.9"/>
<line x1="669.8" y1="14.0" x2="669.8" y2="28.0"/>
<line x1="669.8" y1="883.6" x2="669.8" y2="869.6"/>
<line x1="675.4" y1="14.0" x2="675.4" y2="20.7"/>
<line x1="675.4" y1="883.6" x2="675.4" y2="876.9"/>
<line x1="681.1" y1="14.0" x2="681.1" y2="20.7"/>
<line x1="681.1" y1="883.6" x2="681.1" y2="876.9"/>
<line x1="686.7" y1="14.0" x2="686.7" y2="20.7"/>
<line x1="686.7" y1="883.6" x2="686.7" y2="876.9"/>
<line x1="692.4" y1="14.0" x2="692.4" y2="20.7"/>
<line x1="692.4" y1="883.6" x2="692.4" y2="876.9"/>
<line x1="698.0" y1="14.0" x2="698.0" y2="20.7"/>
<line x1="698.0" y1="883.6" x2="698.0" y2="876.9"/>
<line x1="703.6" y1="14.0" x2="703.6" y2="20.7"/>
<line x1="703.6" y1="883.6" x2="703.6" y2="876.9"/>
<line x1="709.3" y1="14.0" x2="709.3" y2="20.7"/>
<line x1="709.3" y1="883.6" x2="709.3" y2="876.9"/>
<line x1="714.9" y1="14.0" x2="714.9" y2="20.7"/>
<line x1="714.9" y1="883.6" x2="714.9" y2="876.9"/>
<line x1="720.6" y1="14.0" x2="720.6" y2="20.7"/>
<line x1="720.6" y1="883.6" x2="720.6" y2="876.9"/>
<line x1="726.2" y1="14.0" x2="726.2" y2="20.7"/>
<line x1="726.2" y1="883.6" x2="726.2" y2="876.9"/>
<line x1="731.8" y1="14.0" x2="731.8" y2="20.7"/>
<line x1="731.8" y1="883.6" x2="731.8" y2="876.9"/>
<line x1="737.5" y1="14.0" x2="737.5" y2="20.7"/>
<line x1="737.5" y1="883.6" x2="737.5" y2="876.9"/>
<line x1="743.1" y1="14.0" x2="743.1" y2="20.7"/>
<line x1="743.1" y1="883.6" x2="743.1" y2="876.9"/>
<line x1="748.8" y1="14.0" x2="748.8" y2="20.7"/>
<line x1="748.8" y1="883.6" x2="748.8" y2="876.9"/>
<line x1="754.4" y1="14.0" x2="754.4" y2="20.7"/>
<line x1="754.4" y1="883.6" x2="754.4" y2="876.9"/>
<line x1="760.0" y1="14.0" x2="760.0" y2="20.7"/>
<line x1="760.0" y1="883.6" x2="760.0" y2="876.9"/>
<line x1="765.7" y1="14.0" x2="765.7" y2="20.7"/>
<line x1="765.7" y1="883.6" x2="765.7" y2="876.9"/>
<line x1="771.3" y1="14.0" x2="771.3" y2="20.7"/>
<line x1="771.3" y1="883.6" x2="771.3" y2="876.9"/>
<line x1="777.0" y1="14.0" x2="777.0" y2="20.7"/>
<line x1="777.0" y1="883.6" x2="777.0" y2="876.9"/>
<line x1="782.6" y1="14.0" x2="782.6" y2="28.0"/>
<line x1="782.6" y1="883.6" x2="782.6" y2="869.6"/>
<line x1="788.2" y1="14.0" x2="788.2" y2="20.7"/>
<line x1="788.2" y1="883.6" x2="788.2" y2="876.9"/>
<line x1="793.9" y1="14.0" x2="793.9" y2="20.7"/>
<line x1="793.9" y1="883.6" x2="793.9" y2="876.9"/>
<line x1="799.5" y1="14.0" x2="799.5" y2="20.7"/>
<line x1="799.5" y1="883.6" x2="799.5" y2="876.9"/>
<line x1="805.2" y1="14.0" x2="805.2" y2="20.7"/>
<line x1="805.2" y1="883.6" x2="805.2" y2="876.9"/>
<line x1="119.55" y1="437.9" x2="126.2" y2="437.9"/>
<line x1="119.55" y1="415.6" x2="133.6" y2="415.6"/>
<line x1="119.55" y1="393.3" x2="126.2" y2="393.3"/>
<line x1="119.55" y1="371.0" x2="126.2" y2="371.0"/>
<line x1="119.55" y1="348.6" x2="126.2" y2="348.6"/>
<line x1="119.55" y1="326.3" x2="133.6" y2="326.3"/>
<line x1="119.55" y1="304.0" x2="126.2" y2="304.0"/>
<line x1="119.55" y1="281.7" x2="126.2" y2="281.7"/>
<line x1="119.55" y1="259.4" x2="126.2" y2="259.4"/>
<line x1="119.55" y1="237.1" x2="133.6" y2="237.1"/>
<line x1="119.55" y1="214.7" x2="126.2" y2="214.7"/>
<line x1="119.55" y1="192.4" x2="126.2" y2="192.4"/>
<line x1="119.55" y1="170.1" x2="126.2" y2="170.1"/>
<line x1="119.55" y1="147.8" x2="133.6" y2="147.8"/>
<line x1="119.55" y1="125.5" x2="126.2" y2="125.5"/>
<line x1="119.55" y1="103.2" x2="126.2" y2="103.2"/>
<line x1="119.55" y1="80.8" x2="126.2" y2="80.8"/>
<line x1="119.55" y1="58.5" x2="133.6" y2="58.5"/>
<line x1="119.55" y1="36.2" x2="126.2" y2="36.2"/>
<line x1="805.0" y1="433.5" x2="798.3" y2="433.5"/>
<line x1="805.0" y1="415.6" x2="791.0" y2="415.6"/>
<line x1="805.0" y1="397.7" x2="798.3" y2="397.7"/>
<line x1="805.0" y1="379.9" x2="798.3" y2="379.9"/>
<line x1="805.0" y1="362.0" x2="798.3" y2="362.0"/>
<line x1="805.0" y1="344.2" x2="798.3" y2="344.2"/>
<line x1="805.0" y1="326.3" x2="791.0" y2="326.3"/>
<line x1="805.0" y1="308.5" x2="798.3" y2="308.5"/>
<line x1="805.0" y1="290.6" x2="798.3" y2="290.6"/>
<line x1="805.0" y1="272.8" x2="798.3" y2="272.8"/>
<line x1="805.0" y1="254.9" x2="798.3" y2="254.9"/>
<line x1="805.0" y1="237.1" x2="791.0" y2="237.1"/>
<line x1="805.0" y1="219.2" x2="798.3" y2="219.2"/>
<line x1="805.0" y1="201.4" x2="798.3" y2="201.4"/>
<line x1="805.0" y1="183.5" x2="798.3" y2="183.5"/>
<line x1="805.0" y1="165.6" x2="798.3" y2="165.6"/>
<line x1="805.0" y1="147.8" x2="791.0" y2="147.8"/>
<line x1="805.0" y1="129.9" x2="798.3" y2="129.9"/>
<line x1="805.0" y1="112.1" x2="798.3" y2="112.1"/>
<line x1="805.0" y1="94.2" x2="798.3" y2="94.2"/>
<line x1="805.0" y1="76.4" x2="798.3" y2="76.4"/>
<line x1="805.0" y1="58.5" x2="791.0" y2="58.5"/>
<line x1="805.0" y1="40.7" x2="798.3" y2="40.7"/>
<line x1="805.0" y1="22.8" x2="798.3" y2="22.8"/>
<line x1="119.55" y1="459.3" x2="133.6" y2="459.3"/>
<line x1="805.0" y1="459.3" x2="791.0" y2="459.3"/>
<line x1="119.55" y1="489.6" x2="126.2" y2="489.6"/>
<line x1="805.0" y1="489.6" x2="798.3" y2="489.6"/>
<line x1="119.55" y1="519.9" x2="126.2" y2="519.9"/>
<line x1="805.0" y1="519.9" x2="798.3" y2="519.9"/>
<line x1="119.55" y1="550.2" x2="126.2" y2="550.2"/>
<line x1="805.0" y1="550.2" x2="798.3" y2="550.2"/>
<line x1="119.55" y1="580.5" x2="126.2" y2="580.5"/>
<line x1="805.0" y1="580.5" x2="798.3" y2="580.5"/>
<line x1="119.55" y1="610.8" x2="126.2" y2="610.8"/>
<line x1="805.0" y1="610.8" x2="798.3" y2="610.8"/>
<line x1="119.55" y1="641.1" x2="126.2" y2="641.1"/>
<line x1="805.0" y1="641.1" x2="798.3" y2="641.1"/>
<line x1="119.55" y1="671.4" x2="126.2" y2="671.4"/>
<line x1="805.0" y1="671.4" x2="798.3" y2="671.4"/>
<line x1="119.55" y1="701.7" x2="126.2" y2="701.7"/>
<line x1="805.0" y1="701.7" x2="798.3" y2="701.7"/>
<line x1="119.55" y1="732.0" x2="126.2" y2="732.0"/>
<line x1="805.0" y1="732.0" x2="798.3" y2="732.0"/>
<line x1="119.55" y1="762.4" x2="133.6" y2="762.4"/>
<line x1="805.0" y1="762.4" x2="791.0" y2="762.4"/>
<line x1="119.55" y1="792.7" x2="126.2" y2="792.7"/>
<line x1="805.0" y1="792.7" x2="798.3" y2="792.7"/>
<line x1="119.55" y1="823.0" x2="126.2" y2="823.0"/>
<line x1="805.0" y1="823.0" x2="798.3" y2="823.0"/>
<line x1="119.55" y1="853.3" x2="126.2" y2="853.3"/>
<line x1="805.0" y1="853.3" x2="798.3" y2="853.3"/>
</g>
<g stroke="#8E9CFE" stroke-width="2.5" fill="none">
<line x1="886.8" y1="12.9" x2="886.8" y2="439.5"/>
<line x1="886.8" y1="438.3" x2="880.1" y2="438.3"/>
<line x1="886.8" y1="416.0" x2="872.8" y2="416.0"/>
<line x1="886.8" y1="393.7" x2="880.1" y2="393.7"/>
<line x1="886.8" y1="371.3" x2="880.1" y2="371.3"/>
<line x1="886.8" y1="349.0" x2="880.1" y2="349.0"/>
<line x1="886.8" y1="326.7" x2="872.8" y2="326.7"/>
<line x1="886.8" y1="304.4" x2="880.1" y2="304.4"/>
<line x1="886.8" y1="282.0" x2="880.1" y2="282.0"/>
<line x1="886.8" y1="259.7" x2="880.1" y2="259.7"/>
<line x1="886.8" y1="237.4" x2="872.8" y2="237.4"/>
<line x1="886.8" y1="215.0" x2="880.1" y2="215.0"/>
<line x1="886.8" y1="192.7" x2="880.1" y2="192.7"/>
<line x1="886.8" y1="170.4" x2="880.1" y2="170.4"/>
<line x1="886.8" y1="148.0" x2="872.8" y2="148.0"/>
<line x1="886.8" y1="125.7" x2="880.1" y2="125.7"/>
<line x1="886.8" y1="103.4" x2="880.1" y2="103.4"/>
<line x1="886.8" y1="81.1" x2="880.1" y2="81.1"/>
<line x1="886.8" y1="58.7" x2="872.8" y2="58.7"/>
<line x1="886.8" y1="36.4" x2="880.1" y2="36.4"/>
<line x1="886.8" y1="14.1" x2="880.1" y2="14.1"/>
</g>
<g font-size="35" fill="#000" stroke="#000" stroke-width="0.3">
<text x="104.7" y="69.8" text-anchor="end">100</text>
<text x="104.7" y="159.1" text-anchor="end">99</text>
<text x="104.7" y="248.4" text-anchor="end">98</text>
<text x="104.7" y="337.6" text-anchor="end">97</text>
<text x="104.7" y="426.9" text-anchor="end">96</text>
<text x="103.7" y="470.4" text-anchor="end" font-size="34.5">1.5</text>
<text x="103.7" y="773.6" text-anchor="end" font-size="34.5">1.4</text>
<text x="819.5" y="426.9">0.0</text>
<text x="819.5" y="337.6">0.1</text>
<text x="819.5" y="248.4">0.2</text>
<text x="819.5" y="159.1">0.3</text>
<text x="819.5" y="69.8">0.4</text>
<text x="119.5" y="925" text-anchor="middle">0</text>
<text x="231.2" y="925" text-anchor="middle">10</text>
<text x="342.9" y="925" text-anchor="middle">20</text>
<text x="444.2" y="925" text-anchor="middle">300</text>
<text x="557.0" y="925" text-anchor="middle">400</text>
<text x="669.8" y="925" text-anchor="middle">500</text>
<text x="782.6" y="925" text-anchor="middle">600</text>
</g>
<g font-size="35" fill="#8E9CFE" stroke="#8E9CFE" stroke-width="0.3">
<text x="902" y="427.1">0</text>
<text x="902" y="337.8">20</text>
<text x="902" y="248.5">40</text>
<text x="902" y="159.1">60</text>
<text x="902" y="69.8">80</text>
</g>
<rect x="743.3" y="27.8" width="41.7" height="41.5" fill="#fff"/>
<text x="750.3" y="62.6" font-size="39" font-weight="bold">A</text>
<text x="750.3" y="507.8" font-size="39" font-weight="bold">B</text>
<text x="298" y="681.3" font-size="39.5" font-weight="bold" fill="#0017BF">H<tspan font-size="27" dy="9.8">2</tspan><tspan dy="-9.8">O (18)</tspan></text>
<g stroke="#000" stroke-width="0.3">
<text x="462.3" y="976.2" font-size="39.5" text-anchor="middle"><tspan font-style="italic">t</tspan> <tspan dy="2.8">[</tspan><tspan dy="-2.8">min</tspan><tspan dy="2.8">]</tspan></text>
<text transform="translate(29.3 226.5) rotate(-90)" font-size="39.5" text-anchor="middle"><tspan font-style="italic">m</tspan>/<tspan font-style="italic">m</tspan><tspan font-size="27" dy="8.5">0</tspan><tspan dy="-8.5"> </tspan><tspan dy="2.8">[</tspan><tspan dy="-2.8">%</tspan><tspan dy="2.8">]</tspan></text>
<text transform="translate(26.8 671.6) rotate(-90)" font-size="39.5" text-anchor="middle">ion current <tspan dy="2.8">[</tspan><tspan dy="-2.8">nA</tspan><tspan dy="2.8">]</tspan></text>
</g>
<text transform="translate(985 83) rotate(-90)" font-size="39.5" text-anchor="middle" fill="#8E9CFE" stroke="#8E9CFE" stroke-width="0.3"><tspan font-style="italic">T</tspan> <tspan dy="2.8">[</tspan><tspan dy="-2.8">°C</tspan><tspan dy="2.8">]</tspan></text>
<g transform="translate(985 424) rotate(-90)" font-size="39.5" fill="#000" stroke="#000" stroke-width="0.3">
<text x="0" y="0" font-style="italic">Q</text>
<text x="13" y="-37.1">.</text>
<text x="28" y="9.6" font-size="28">spec.</text>
<text x="93.3" y="0"><tspan dy="2.8">[</tspan><tspan dy="-2.8">W g</tspan></text>
<text x="176.5" y="-17" font-size="28">-1</text>
<text x="176.5" y="9.6" font-size="28">cat</text>
<text x="205.3" y="2.8">]</text>
</g>
</svg>
</body>
</html>
